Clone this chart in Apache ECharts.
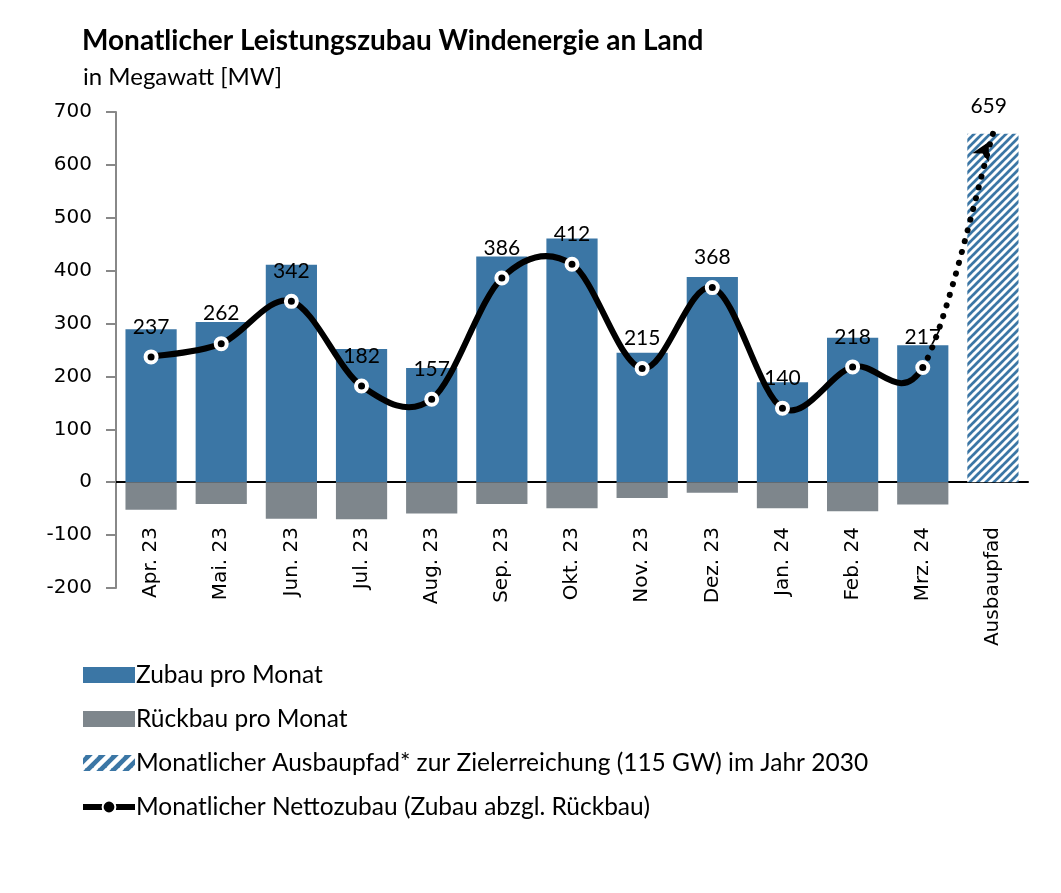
<!DOCTYPE html>
<html>
<head>
<meta charset="utf-8">
<script src="https://cdn.jsdelivr.net/npm/echarts@6/dist/echarts.min.js"></script>
<style>
html,body{margin:0;padding:0;background:#fff;}
#chart{width:1061px;height:893px;}
</style>
</head>
<body>
<div id="chart"></div>
<script>
const categories = ['Apr. 23','Mai. 23','Jun. 23','Jul. 23','Aug. 23','Sep. 23','Okt. 23','Nov. 23','Dez. 23','Jan. 24','Feb. 24','Mrz. 24','Ausbaupfad'];
const zubau = [289, 303, 411, 252, 216, 427, 461, 245, 388, 189, 273, 259, null];
const rueckbau = [-52, -41, -69, -70, -59, -41, -49, -30, -20, -49, -55, -42, null];
const ausbaupfad = [null, null, null, null, null, null, null, null, null, null, null, null, 659];
const netto = [237, 262, 342, 182, 157, 386, 412, 215, 368, 140, 218, 217];
const zielwert = 659;
const yTicks = {min: -200, max: 700, interval: 100};

const BLUE = '#3b76a5';
const GRAY = '#7e868c';
const LABEL_FONT = 'Lato, "Open Sans", sans-serif';
const AXIS_FONT = '"DejaVu Sans", Verdana, sans-serif';
const NET_NAME = 'Monatlicher Nettozubau (Zubau abzgl. Rückbau)';
const PFAD_NAME = 'Monatlicher Ausbaupfad* zur Zielerreichung (115 GW) im Jahr 2030';

function makePattern(s, w) {
  const c = document.createElement('canvas');
  c.width = s; c.height = s;
  const ctx = c.getContext('2d');
  ctx.fillStyle = BLUE;
  ctx.fillRect(0, 0, s, s);
  ctx.strokeStyle = '#ffffff';
  ctx.lineWidth = w;
  for (let k = -1; k <= 1; k++) {
    ctx.beginPath();
    ctx.moveTo(-1 + k * s, s + 1);
    ctx.lineTo(s + 1 + k * s, -1);
    ctx.stroke();
  }
  return {image: c, repeat: 'repeat'};
}
const pattern = makePattern(8, 3);
const legendPattern = makePattern(13, 4.5);

const lineData = netto.concat([zielwert]);
const lastIdx = netto.length - 1;
const endIdx = lineData.length - 1;

const markerData = lineData.map((v, i) => i === endIdx
  ? {value: v, symbol: 'arrow', symbolSize: [14, 18], symbolRotate: -28, symbolOffset: [-4, 8],
     itemStyle: {color: '#000', borderWidth: 0},
     label: {show: true, position: 'top', distance: 21, offset: [4, 0]}}
  : v);

// Smoothed connecting curve (cardinal spline) drawn through the axis scales
function renderCurve(params, api) {
  const pts = lineData.map((v, i) => api.coord([i, v]));
  const t = 1 / 6;
  const children = [];
  for (let i = 0; i < pts.length - 1; i++) {
    const p0 = pts[Math.max(i - 1, 0)], p1 = pts[i], p2 = pts[i + 1], p3 = pts[Math.min(i + 2, pts.length - 1)];
    const dotted = i >= lastIdx;
    children.push({
      type: 'bezierCurve',
      shape: {
        x1: p1[0], y1: p1[1], x2: p2[0], y2: p2[1],
        cpx1: p1[0] + (p2[0] - p0[0]) * t, cpy1: p1[1] + (p2[1] - p0[1]) * t,
        cpx2: p2[0] - (p3[0] - p1[0]) * t, cpy2: p2[1] - (p3[1] - p1[1]) * t
      },
      style: dotted
        ? {stroke: '#000', fill: 'none', lineWidth: 6, lineCap: 'round', lineDash: [0.1, 11]}
        : {stroke: '#000', fill: 'none', lineWidth: 6, lineCap: 'round'}
    });
  }
  return {type: 'group', children: children};
}

const chart = echarts.init(document.getElementById('chart'), null, {renderer: 'canvas'});
chart.setOption({
  animation: false,
  backgroundColor: '#fff',
  title: [
    {text: 'Monatlicher Leistungszubau Windenergie an Land', left: 77, top: 22,
     textStyle: {fontFamily: LABEL_FONT, fontWeight: 'bold', fontSize: 28, color: '#000'}},
    {text: 'in Megawatt [MW]', left: 78, top: 60,
     textStyle: {fontFamily: LABEL_FONT, fontWeight: 'normal', fontSize: 24, color: '#000'}}
  ],
  grid: {left: 116, right: 33, top: 112, bottom: 305, containLabel: false},
  legend: {
    orient: 'vertical', left: 80, top: 662, padding: 0,
    itemWidth: 52, itemHeight: 16, itemGap: 18,
    textStyle: {fontFamily: LABEL_FONT, fontSize: 24.5, color: '#000', lineHeight: 26, padding: [0, 0, 0, -4]},
    data: [
      {name: 'Zubau pro Monat', icon: 'rect'},
      {name: 'Rückbau pro Monat', icon: 'rect'},
      {name: PFAD_NAME, icon: 'rect', itemStyle: {color: legendPattern}},
      {name: NET_NAME, lineStyle: {color: '#000', width: 6, opacity: 1}}
    ]
  },
  xAxis: {
    type: 'category', data: categories,
    axisLine: {onZero: true, lineStyle: {color: '#000', width: 2}},
    axisTick: {show: false},
    axisLabel: {rotate: 90, margin: -61, color: '#000', fontFamily: AXIS_FONT, fontSize: 20, interval: 0},
    splitLine: {show: false}
  },
  yAxis: {
    type: 'value', min: yTicks.min, max: yTicks.max, interval: yTicks.interval,
    axisLine: {show: true, lineStyle: {color: '#888', width: 2}},
    axisTick: {show: true, length: 10, lineStyle: {color: '#888', width: 2}},
    axisLabel: {margin: 24, color: '#000', fontFamily: AXIS_FONT, fontSize: 20},
    splitLine: {show: false}
  },
  series: [
    {name: 'Zubau pro Monat', type: 'bar', stack: 'total', data: zubau,
     barCategoryGap: '27%', itemStyle: {color: BLUE}},
    {name: 'Rückbau pro Monat', type: 'bar', stack: 'total', data: rueckbau,
     itemStyle: {color: GRAY}},
    {name: PFAD_NAME, type: 'bar', stack: 'total',
     data: ausbaupfad, itemStyle: {color: pattern}},
    {name: 'kurve', type: 'custom', coordinateSystem: 'cartesian2d', renderItem: renderCurve,
     data: [[0, 0]], z: 4, clip: false, silent: true},
    {name: NET_NAME, type: 'line', data: markerData, z: 5,
     lineStyle: {color: '#000', width: 6, opacity: 0},
     symbol: 'circle', symbolSize: 11, showSymbol: true,
     itemStyle: {color: '#000', borderColor: '#fff', borderWidth: 4},
     label: {show: true, position: 'top', distance: 12, color: '#000', fontFamily: LABEL_FONT, fontSize: 21}}
  ]
});
</script>
</body>
</html>
